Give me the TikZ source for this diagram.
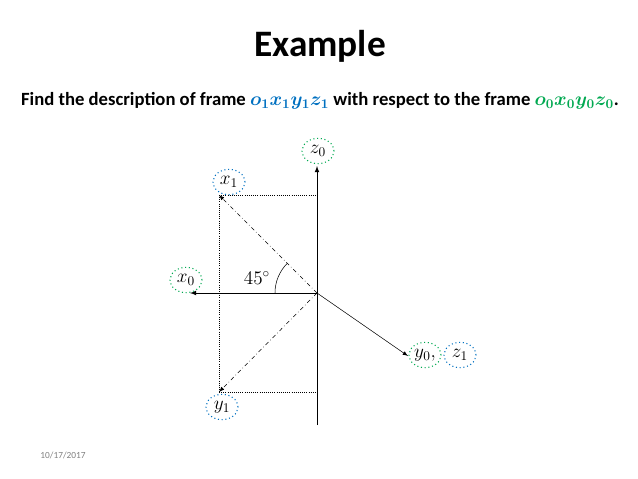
\documentclass[tikz,border=0pt]{standalone}
\usepackage{fontspec}
\usepackage{amsmath,bm}
\usetikzlibrary{calc,shapes.geometric,arrows}
\setmainfont{Carlito}
\definecolor{lgreen}{RGB}{0,168,80}
\definecolor{lblue}{RGB}{0,112,192}
\begin{document}
\begin{tikzpicture}[x=0.75pt,y=-0.75pt,
  lab/.style={draw,dotted,thick,ellipse,inner sep=0.2pt,minimum width=24pt,minimum height=19pt,font=\fontsize{14}{16}\selectfont},
  gl/.style={lab,draw=lgreen},
  bl/.style={lab,draw=lblue},
  ax/.style={-latex,semithick},
  guide/.style={densely dotted,semithick}]
\useasboundingbox (0,0) rectangle (638,478);
\node[font=\bfseries\fontsize{28}{32}\selectfont] (title) at (320,46) {Example};
\node[font=\bfseries\fontsize{14}{17}\selectfont] (sub) at (320,101)
 {Find the description of frame \textcolor{lblue}{$\bm{o_1x_1y_1z_1}$} with respect to the frame \textcolor{lgreen}{$\bm{o_0x_0y_0z_0}$}.};
\node[font=\fontsize{7}{8}\selectfont,text=gray] (date) at (63,455) {10/17/2017};
\coordinate (o) at (317,293);
\coordinate (zb) at (317,425);
\coordinate (zt) at (317,166);
\coordinate (xe) at (190,293);
\coordinate (x1e) at (219,195);
\coordinate (y1e) at (219,392);
\coordinate (y0e) at (408,356);
\coordinate (r1) at (317,195);
\coordinate (r2) at (317,392);
\draw[guide] (x1e) -- (r1);
\draw[guide] (x1e) -- (y1e);
\draw[guide] (y1e) -- (r2);
\draw[ax] (zb) -- (zt);
\draw[ax] (o) -- (xe);
\draw[-latex,thin] (o) -- (y0e);
\draw[-latex,thin,dash dot] (o) -- (x1e);
\draw[-latex,thin,dash dot] (o) -- (y1e);
\draw[thin] ($(o)+(-42,0)$) arc[start angle=180,end angle=225,radius=42];
\node[font=\fontsize{14}{16}\selectfont] (ang) at (257,278) {$45^\circ$};
\node[gl] (z0) at (318,151) {$z_0$};
\node[bl] (x1) at (229,182) {$x_1$};
\node[gl] (x0) at (186,280) {$x_0$};
\node[gl] (y0) at (425,355) {$y_0,$};
\node[bl] (z1) at (460,355) {$z_1$};
\node[bl] (y1) at (222,407) {$y_1$};
\end{tikzpicture}
\end{document}
